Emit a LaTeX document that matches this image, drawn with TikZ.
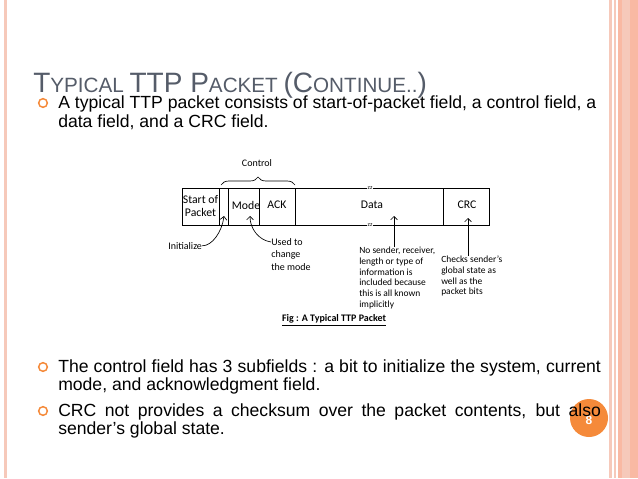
\documentclass[tikz,border=0pt]{standalone}
\usepackage{fontspec}
\setmainfont{Liberation Sans}
\newfontfamily\calfont{Carlito}
\usetikzlibrary{decorations.pathreplacing,arrows.meta}
\definecolor{pk}{HTML}{F6C9BA}
\definecolor{pk2}{HTML}{F9B9A3}
\definecolor{org}{HTML}{F58A3A}
\definecolor{ttl}{HTML}{555C69}
\begin{document}
\begin{tikzpicture}[x=0.75pt,y=-0.75pt,
  body/.style={anchor=base west,inner sep=0pt,font=\fontsize{13.2}{15}\selectfont},
  fld/.style={font=\calfont\fontsize{8.8}{9.7}\selectfont,align=center,inner sep=0pt},
  note/.style={font=\calfont\fontsize{7.1}{8}\selectfont,align=left,anchor=north west,inner sep=0pt},
  bul/.style={draw=org,line width=1.1pt,circle,minimum size=6.5pt,inner sep=0pt},
  arr/.style={-{Straight Barb[length=2.5pt]},line width=0.5pt}]
\useasboundingbox (0,0) rectangle (638,478);
\fill[white] (0,0) rectangle (638,478);
% borders
\fill[pk] (4,0) rectangle (7,478);
\fill[pk] (609,0) rectangle (612,478);
\fill[pk] (614,0) rectangle (616,478);
\fill[pk2] (618,0) rectangle (638,478);
\fill[pk] (622,0) rectangle (630,478);
% title
\node[anchor=base west,inner sep=0pt,text=ttl] (title) at (33,93)
 {\fontsize{21}{24}\selectfont T\fontsize{15.5}{18}\selectfont YPICAL \fontsize{21}{24}\selectfont TTP P\fontsize{15.5}{18}\selectfont ACKET \fontsize{21}{24}\selectfont(C\fontsize{15.5}{18}\selectfont ONTINUE..\fontsize{21}{24}\selectfont)};
% bullets
\node[bul] (b1) at (43,103) {};
\node[body] (t1) at (58,108) {A typical TTP packet consists of start-of-packet field, a control field, a};
\node[body] (t1b) at (58,127) {data field, and a CRC field.};
\node[bul] (b2) at (43,367) {};
\node[body] (t2) at (58,372) {\makebox[407pt][s]{The control field has 3 subfields : a bit to initialize the system, current}};
\node[body] (t2b) at (58,390) {mode, and acknowledgment field.};
\node[bul] (b3) at (43,411) {};
% page circle
\node[circle,fill=org,minimum size=28.5pt,inner sep=0pt] (pg) at (589,418) {};
\node[text=white,font=\bfseries\fontsize{9}{10}\selectfont] at (589,420) {8};
\node[body] (t3) at (58,416) {\makebox[407pt][s]{CRC not provides a checksum over the packet contents, but also}};
\node[body] (t3b) at (58,434) {sender’s global state.};
% packet
\draw[line width=0.5pt] (182,188) rectangle (489,225);
\foreach \x in {219,228,259,295,443} \draw[line width=0.5pt] (\x,188) -- (\x,225);
\node[fld] (sop) at (200.5,206) {Start of\\Packet};
\node[fld] (mode) at (246,205) {Mode};
\node[fld] (ack) at (277,205) {ACK};
\node[fld] (data) at (372,205) {Data};
\node[fld] (crc) at (467,205) {CRC};
\node[fill=white,inner sep=0.5pt,font=\calfont\fontsize{4.5}{5}\selectfont] at (370,188) {zz};
\node[fill=white,inner sep=0.5pt,font=\calfont\fontsize{4.5}{5}\selectfont] at (370,225) {zz};
\draw[decorate,decoration={brace,amplitude=6pt},line width=0.5pt] (221,185) -- (295,185);
\node[fld,font=\calfont\fontsize{7.5}{8}\selectfont] (ctl) at (257,163) {Control};
% notes
\node[note,font=\calfont\fontsize{7.5}{8}\selectfont] (ini) at (168,242) {Initialize};
\node[note,font=\calfont\fontsize{7.5}{9.5}\selectfont] (used) at (271,238) {Used to\\change\\the mode};
\node[note] (dn) at (359,247) {No sender, receiver,\\length or type of\\information is\\included because\\this is all known\\implicitly};
\node[note] (cn) at (441,256) {Checks sender’s\\global state as\\well as the\\packet bits};
\coordinate (ia) at (224,216);
\coordinate (ma) at (250,216);
\coordinate (da) at (394,216);
\coordinate (ca) at (468,218);
\draw[arr] (ini.east) .. controls (212,246) and (222,232) .. (ia);
\draw[arr] (used.north west) ++(0,4) .. controls (258,240) and (250,228) .. (ma);
\draw[arr] (394,247) -- (da);
\draw[arr] (cn.north -| ca) -- (ca);
\node[font=\calfont\bfseries\fontsize{7.5}{8}\selectfont,inner sep=0pt] (cap) at (334,320) {\underline{Fig : A Typical TTP Packet}};
\end{tikzpicture}
\end{document}
